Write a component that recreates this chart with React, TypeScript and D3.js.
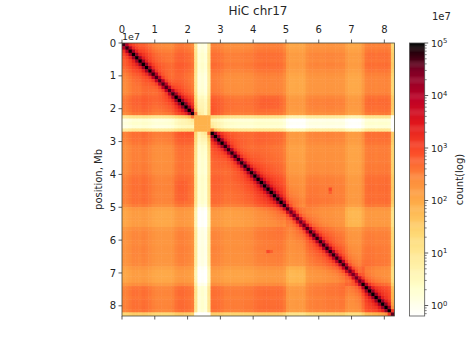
import React from "react";
import * as d3 from "d3";

const binProfile = [
  -0.02, 0, 0.06, 0.13, 0.13, 0.1, 0.15, 0.12, 0.07, 0, -0.04, -0.04, -0.05, -0.05, -0.04, 0, 0.12, 0.17, 0.18, 0.15,
  0.12, 0.05, -1.45, -2.3, -2.2, -2.3, -1.55, 0.14, 0.14, 0.13, 0.09, 0.02, 0.02, 0.02, 0.02, 0.02, 0.03, 0.05, 0.05,
  0.06, 0.12, 0.15, 0.15, 0.16, 0.16, 0.15, 0.15, 0.16, 0.14, 0.05, -0.22, -0.3, -0.3, -0.28, -0.3, -0.29, -0.1, -0.05,
  -0.04, -0.03, -0.05, -0.04, -0.02, -0.03, -0.03, -0.05, -0.04, -0.06, -0.22, -0.3, -0.32, -0.3, -0.28, -0.1, 0.12,
  0.15, 0.15, 0.12, 0.15, 0.15, 0.16, 0.12, -0.95,
];
const distanceDecay = [
  4.8, 4.0, 3.15, 2.9, 2.78, 2.7, 2.64, 2.6, 2.56, 2.53, 2.51, 2.49, 2.48, 2.46, 2.45, 2.44, 2.43, 2.42, 2.41, 2.4,
  2.4, 2.39, 2.39, 2.38, 2.38, 2.37, 2.37, 2.37, 2.36, 2.36,
];
const farDecay = 2.36;
// row start, row end, column start, column end, boost in log10 counts
const patches: [number, number, number, number, number][] = [
  [50, 56, 50, 56, 0.35],
  [56, 68, 56, 68, 0.1],
  [68, 74, 68, 74, 0.35],
  [50, 56, 56, 68, 0.16],
  [68, 74, 56, 68, 0.14],
  [44, 45, 63, 64, 0.22],
  [63, 64, 44, 46, 0.25],
  [16, 20, 42, 48, 0.06],
  [82, 83, 82, 83, 1.7],
];
// centromere block: flat level where the two empty bands cross
const crossStart = 22;
const crossEnd = 27;
const crossLevel = 1.88;
const xTicks = [0, 1, 2, 3, 4, 5, 6, 7, 8];
const cbarTicks = [0, 1, 2, 3, 4, 5];
const cbarMinor = [2, 3, 4, 5, 6, 7, 8, 9];
const fallColors = ["#ffffff", "#ffffcc", "#ffeda0", "#fed976", "#feb24c", "#fd8d3c", "#fc4e2a", "#e31a1c", "#bd0026", "#800026", "#000000"];

const nBins = binProfile.length;
const fontFamily = "DejaVu Sans";
const textColor = "#262626";
const x = d3.scaleLinear().domain([0, 8.31]).range([122, 394.5]);
const y = d3.scaleLinear().domain([0, 8.31]).range([43, 316]);
const cbarY = d3.scaleLinear().domain([-0.2, 5]).range([316, 43]);
const t = d3.scaleLinear().domain([-0.2, 5]).range([0, 1]);
const cmap = d3.scaleLinear<string>().domain(fallColors.map((_, i) => i / (fallColors.length - 1))).range(fallColors).clamp(true);

function cellValue(i: number, j: number) {
  if (i >= crossStart && i < crossEnd && j >= crossStart && j < crossEnd) return crossLevel;
  const d = Math.abs(i - j);
  let v = (d < distanceDecay.length ? distanceDecay[d] : farDecay) + binProfile[i] + binProfile[j];
  for (const [a, b, c, e, boost] of patches) {
    if ((i >= a && i < b && j >= c && j < e) || (j >= a && j < b && i >= c && i < e)) v += boost;
  }
  return v;
}

function Sup({ x: px, y: py, exp }: { x: number; y: number; exp: number }) {
  return (
    <text x={px} y={py} fontSize={9.5} fill={textColor} fontFamily={fontFamily}>
      10<tspan dy={-3.5} fontSize={6.8}>{exp}</tspan>
    </text>
  );
}

export default function App() {
  const bins = d3.range(nBins);
  const cell = x(0.1) - x(0);
  const cellH = y(0.1) - y(0);
  const barSteps = d3.range(0, 256);
  const stripH = 273 / 256;
  return (
    <svg width={474} height={355} style={{ position: "absolute", left: 0, top: 0 }}>
      <defs>
        <filter id="soft" x="-2%" y="-2%" width="104%" height="104%">
          <feGaussianBlur stdDeviation="0.55" />
        </filter>
        <clipPath id="plot">
          <rect x={122} y={43} width={272.5} height={273} />
        </clipPath>
      </defs>
      <rect width={474} height={355} fill="#fff" />
      <g clipPath="url(#plot)">
        <g filter="url(#soft)">
          {bins.map((i) =>
            bins.map((j) => (
              <rect
                key={`${i}-${j}`}
                x={x(j / 10)}
                y={y(i / 10)}
                width={cell + 0.5}
                height={cellH + 0.5}
                fill={cmap(t(cellValue(i, j)))}
              />
            ))
          )}
        </g>
      </g>
      <rect x={122} y={43} width={272.5} height={273} fill="none" stroke="#4a4a3a" strokeWidth={0.8} />
      {xTicks.map((v) => (
        <g key={v}>
          <line x1={x(v)} x2={x(v)} y1={43} y2={39.5} stroke="#333" strokeWidth={0.8} />
          <line x1={x(v)} x2={x(v)} y1={316} y2={319.5} stroke="#333" strokeWidth={0.8} />
          <text x={x(v)} y={33} textAnchor="middle" fontSize={10} fill={textColor} fontFamily={fontFamily}>{v}</text>
          <line x1={122} x2={118.5} y1={y(v)} y2={y(v)} stroke="#333" strokeWidth={0.8} />
          <text x={116} y={y(v) + 3.6} textAnchor="end" fontSize={10} fill={textColor} fontFamily={fontFamily}>{v}</text>
        </g>
      ))}
      <text x={122} y={39.5} fontSize={9.5} fill={textColor} fontFamily={fontFamily}>1e7</text>
      <text x={432} y={20} fontSize={10} fill={textColor} fontFamily={fontFamily}>1e7</text>
      <text x={258} y={15} textAnchor="middle" fontSize={12} fill={textColor} fontFamily={fontFamily}>HiC chr17</text>
      <text transform="translate(102,179.5) rotate(-90)" textAnchor="middle" fontSize={10} fill={textColor} fontFamily={fontFamily}>position, Mb</text>
      {barSteps.map((s) => (
        <rect key={s} x={409.5} y={316 - (s + 1) * stripH} width={15.2} height={stripH + 0.4} fill={cmap(s / 255)} />
      ))}
      <rect x={409.5} y={43} width={15.2} height={273} fill="none" stroke="#555" strokeWidth={0.8} />
      {cbarTicks.map((e) => (
        <g key={e}>
          <line x1={424.7} x2={428.2} y1={cbarY(e)} y2={cbarY(e)} stroke="#333" strokeWidth={0.8} />
          <Sup x={431} y={cbarY(e) + 3.5} exp={e} />
        </g>
      ))}
      {d3.range(-1, 5).flatMap((e) =>
        cbarMinor
          .map((m) => e + Math.log10(m))
          .filter((v) => v >= -0.2)
          .map((v) => <line key={v} x1={424.7} x2={426.7} y1={cbarY(v)} y2={cbarY(v)} stroke="#333" strokeWidth={0.6} />)
      )}
      <text transform="translate(463,179.5) rotate(-90)" textAnchor="middle" fontSize={10} fill={textColor} fontFamily={fontFamily}>count(log)</text>
    </svg>
  );
}
